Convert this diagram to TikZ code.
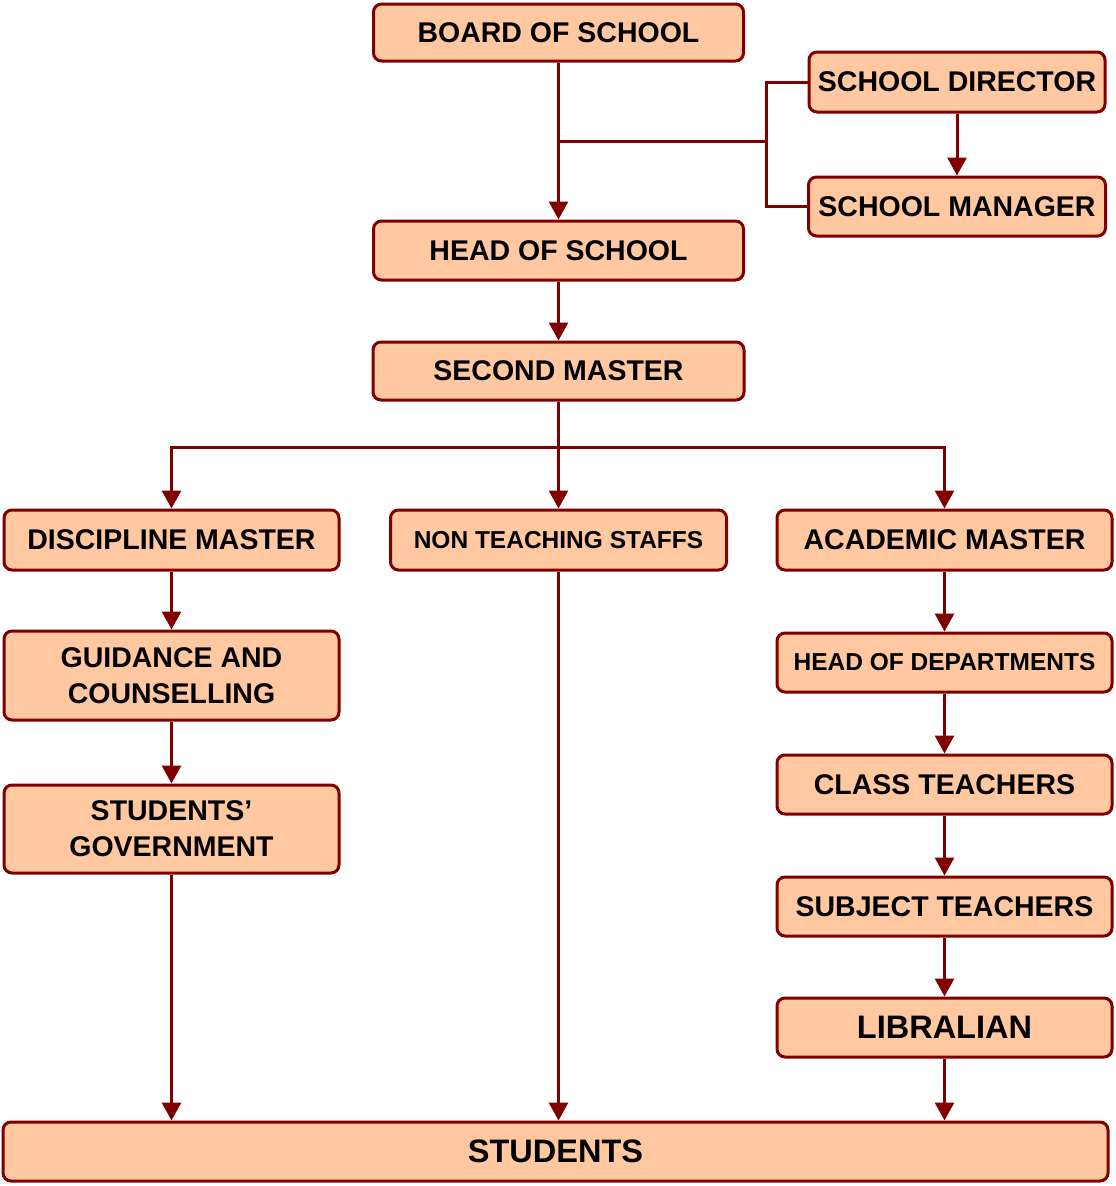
\documentclass[tikz,border=0pt]{standalone}
\usepackage{fontspec}
\setmainfont{Liberation Sans}
\usetikzlibrary{arrows.meta}
\definecolor{boxfill}{HTML}{FFC8A0}
\definecolor{boxline}{HTML}{800000}

\begin{document}
\begin{tikzpicture}[x=1pt, y=-1pt,
    post/.style={
      draw=boxline, fill=boxfill, line width=3pt,
      rounded corners=8pt, inner sep=0pt,
      align=center, font=\bfseries\fontsize{28.5}{36}\selectfont,
    },
    small/.style={font=\bfseries\fontsize{24.5}{30}\selectfont},
    big/.style={font=\bfseries\fontsize{32.5}{38}\selectfont},
    link/.style={draw=boxline, line width=3pt},
    arr/.style={link, -{Triangle[length=18pt, width=19pt]}},
  ]
    \useasboundingbox (0,0) rectangle (1116,1186);
    % top of the chart
    \node[post, minimum width=370pt, minimum height=57pt] (board) at (558.5,32.5) {BOARD OF SCHOOL};
    \node[post, minimum width=296pt, minimum height=60pt] (director) at (957,82) {SCHOOL DIRECTOR};
    \node[post, minimum width=297pt, minimum height=59pt] (manager) at (957,206.5) {SCHOOL MANAGER};
    \node[post, minimum width=370pt, minimum height=59pt] (head) at (558.5,250.5) {HEAD OF SCHOOL};
    \node[post, minimum width=371pt, minimum height=58pt] (second) at (558.5,371) {SECOND MASTER};
    % three branches
    \node[post, minimum width=335pt, minimum height=60pt] (discipline) at (171.5,540) {DISCIPLINE MASTER};
    \node[post, small, minimum width=336pt, minimum height=60pt] (nonteach) at (558.5,540) {NON TEACHING STAFFS};
    \node[post, minimum width=335pt, minimum height=60pt] (academic) at (944.5,540) {ACADEMIC MASTER};
    \node[post, minimum width=335pt, minimum height=89pt] (guidance) at (171.5,675.5) {GUIDANCE AND\\COUNSELLING};
    \node[post, minimum width=335pt, minimum height=88pt] (government) at (171.5,829) {STUDENTS’\\GOVERNMENT};
    \node[post, small, minimum width=335pt, minimum height=59pt] (hod) at (944.5,662.5) {HEAD OF DEPARTMENTS};
    \node[post, minimum width=335pt, minimum height=59pt] (classt) at (944.5,784.5) {CLASS TEACHERS};
    \node[post, minimum width=335pt, minimum height=59pt] (subjectt) at (944.5,906.5) {SUBJECT TEACHERS};
    \node[post, big, minimum width=335pt, minimum height=59pt] (librarian) at (944.5,1027.5) {LIBRALIAN};
    \node[post, big, minimum width=1105pt, minimum height=59pt, text depth=-6pt] (students) at (555.5,1151.5) {STUDENTS};

    % director and manager join the main line
    \coordinate (fork) at (766,141);
    \draw[arr] (board) -- (head);
    \draw[link] (director.west) -| (fork) |- (manager.west);
    \draw[link] (fork) -- (fork -| board.south);
    \draw[arr] (director) -- (manager);
    \draw[arr] (head) -- (second);

    % second master splits in three
    \draw[arr] (second.south) -- ++(0,46) -| (discipline.north);
    \draw[arr] (second.south) -- ++(0,46) -| (academic.north);
    \draw[arr] (second) -- (nonteach);

    % the chains
    \foreach \a/\b in {discipline/guidance, guidance/government,
      academic/hod, hod/classt, classt/subjectt, subjectt/librarian} {
        \draw[arr] (\a) -- (\b);
    }
    \foreach \a in {government, nonteach, librarian} {
        \draw[arr] (\a.south) -- (students.north -| \a.south);
    }
\end{tikzpicture}
\end{document}
